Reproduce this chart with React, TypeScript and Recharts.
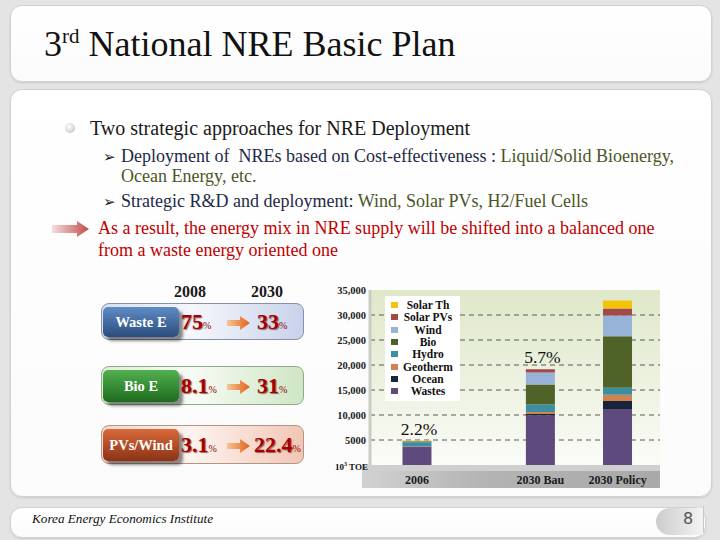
import React from "react";
import { BarChart, Bar, XAxis, YAxis, CartesianGrid, Legend, LabelList } from "recharts";

// NRE supply by source, 10^3 TOE
const categories = ["2006", "2030 Bau", "2030 Policy"];
const nreShare = ["2.2%", "5.7%", "11%"];
const wastes = [3700, 9900, 11200];
const ocean = [0, 300, 1600];
const geotherm = [50, 400, 1250];
const hydro = [800, 1500, 1400];
const bio = [150, 4000, 10300];
const wind = [60, 2400, 4150];
const solarPV = [40, 650, 1400];
const solarTh = [100, 0, 1600];

const yTicks = [5000, 10000, 15000, 20000, 25000, 30000, 35000];
const yTickLabels = ["5000", "10,000", "15,000", "20,000", "25,000", "30,000", "35,000"];
const gridValues = [5000, 10000, 15000, 20000, 25000, 30000];

// left panel: share of each source, 2008 -> 2030
const rowLabels = ["Waste E", "Bio E", "PVs/Wind"];
const share2008 = ["75", "8.1", "3.1"];
const share2030 = ["33", "31", "22.4"];

// x slots on a numeric axis so the two 2030 bars sit close together
const slotPos = [0, 1.6, 2.6];
const xDomain = [-0.61, 3.15];

const series = [
  { key: "wastes", name: "Wastes", color: "#5e4a7c", values: wastes },
  { key: "ocean", name: "Ocean", color: "#16253a", values: ocean },
  { key: "geotherm", name: "Geotherm", color: "#d0834f", values: geotherm },
  { key: "hydro", name: "Hydro", color: "#3a8fa2", values: hydro },
  { key: "bio", name: "Bio", color: "#4f6228", values: bio },
  { key: "wind", name: "Wind", color: "#98b3d8", values: wind },
  { key: "solarPV", name: "Solar PVs", color: "#a24a4a", values: solarPV },
  { key: "solarTh", name: "Solar Th", color: "#f5c20a", values: solarTh },
];

const table = categories.map((c, i) => {
  const row: Record<string, string | number> = { category: c, pos: slotPos[i], share: nreShare[i] };
  series.forEach((s) => (row[s.key] = s.values[i]));
  return row;
});

// highest non-empty segment of each stack carries the share label
const topKeyAt = (i: number) => {
  for (let k = series.length - 1; k >= 0; k--) if (series[k].values[i] > 0) return series[k].key;
  return series[0].key;
};

const FONT = '"Liberation Serif", "DejaVu Serif", "Times New Roman", serif';

const rowStyles = [
  { top: 303, h: 37, box: "linear-gradient(90deg,#d9dff0,#f6f7fb 45%,#c8d2ea)", border: "#8791ab", btn: "linear-gradient(180deg,#5f8cc6,#2b4c7d)" },
  { top: 366, h: 39, box: "linear-gradient(90deg,#dcefd5,#f7fbf5 45%,#cfe6c4)", border: "#93a98b", btn: "linear-gradient(180deg,#52b04f,#1d6b1d)" },
  { top: 425, h: 39, box: "linear-gradient(90deg,#f6d8cd,#fcf3ef 45%,#f2c6b3)", border: "#b39487", btn: "linear-gradient(180deg,#d96a3b,#8b3216)" },
];

function Panel({ top, height, width = 700 }: { top: number; height: number; width?: number }) {
  return (
    <div
      style={{
        position: "absolute",
        left: 10,
        top,
        width,
        height,
        borderRadius: 12,
        background: "linear-gradient(180deg,#ffffff,#fbfbfb)",
        border: "1px solid #d2d2d2",
        boxShadow: "0 1px 2px rgba(0,0,0,0.12)",
      }}
    />
  );
}

function Txt({ x, y, size, color = "#1a1a1a", children, bold, italic }: any) {
  return (
    <div
      style={{
        position: "absolute",
        left: x,
        top: y - size * 0.6,
        fontFamily: FONT,
        fontSize: size,
        lineHeight: `${size * 1.2}px`,
        color,
        whiteSpace: "nowrap",
        fontWeight: bold ? "bold" : "normal",
        fontStyle: italic ? "italic" : "normal",
      }}
    >
      {children}
    </div>
  );
}

function OrangeArrow({ x, y }: { x: number; y: number }) {
  return (
    <svg style={{ position: "absolute", left: x, top: y - 7 }} width={23} height={14}>
      <defs>
        <linearGradient id={`oa${y}`} x1="0" y1="0" x2="1" y2="0">
          <stop offset="0" stopColor="#f7c494" />
          <stop offset="1" stopColor="#e0621a" />
        </linearGradient>
      </defs>
      <polygon points="0,4 13,4 13,0 23,7 13,14 13,10 0,10" fill={`url(#oa${y})`} />
    </svg>
  );
}

function ShareRows() {
  return (
    <>
      <Txt x={174} y={292} size={16} bold>2008</Txt>
      <Txt x={251} y={292} size={16} bold>2030</Txt>
      {rowLabels.map((label, i) => {
        const r = rowStyles[i];
        const cy = r.top + r.h / 2;
        const num = { fontFamily: FONT, fontWeight: "bold" as const, fontSize: 22, color: "#a80000", textShadow: "1px 1px 1px rgba(60,0,0,0.55)" };
        const pct = { fontFamily: FONT, fontSize: 10, color: "#8a0000" };
        return (
          <React.Fragment key={label}>
            <div
              style={{
                position: "absolute",
                left: 101,
                top: r.top,
                width: 203,
                height: r.h,
                borderRadius: 8,
                background: r.box,
                border: `1px solid ${r.border}`,
                boxSizing: "border-box",
              }}
            />
            <div
              style={{
                position: "absolute",
                left: 103,
                top: r.top + 4,
                width: 76,
                height: r.h - 7,
                borderRadius: 5,
                background: r.btn,
                boxShadow: "4px 4px 3px rgba(0,0,0,0.45)",
                color: "#fff",
                fontFamily: FONT,
                fontWeight: "bold",
                fontSize: 14.5,
                display: "flex",
                alignItems: "center",
                justifyContent: "center",
                whiteSpace: "nowrap",
              }}
            >
              {label}
            </div>
            <div style={{ position: "absolute", left: 181, top: cy - 13, whiteSpace: "nowrap", lineHeight: "26px" }}>
              <span style={num}>{share2008[i]}</span>
              <span style={pct}>%</span>
            </div>
            <OrangeArrow x={227} y={cy + 1} />
            <div style={{ position: "absolute", left: i === 2 ? 254 : 257, top: cy - 13, whiteSpace: "nowrap", lineHeight: "26px" }}>
              <span style={num}>{share2030[i]}</span>
              <span style={pct}>%</span>
            </div>
          </React.Fragment>
        );
      })}
    </>
  );
}

const renderLegend = (props: any) => {
  const order = series.map((s) => s.name);
  const items = [...(props.payload ?? [])].sort((a: any, b: any) => order.indexOf(b.value) - order.indexOf(a.value));
  return (
    <div style={{ background: "#fff", width: 75, padding: "3px 0 4px", fontFamily: FONT, fontWeight: "bold", fontSize: 11.5, color: "#111" }}>
      {items.map((p: any) => (
        <div key={p.value} style={{ display: "flex", alignItems: "center", height: 12.3 }}>
          <span style={{ width: 7, height: 6, background: p.color, marginLeft: 6 }} />
          <span style={{ flex: 1, textAlign: "center", paddingRight: 2, lineHeight: "12px" }}>{p.value}</span>
        </div>
      ))}
    </div>
  );
};

const shareLabel = (key: string) => (props: any) => {
  const { x, y, width, index } = props;
  if (topKeyAt(index) !== key) return null;
  return (
    <text x={Number(x) + Number(width) / 2 + 2} y={Number(y) - 6} textAnchor="middle" fontFamily={FONT} fontSize={17.5} fill="#111">
      {nreShare[index]}
    </text>
  );
};

function SupplyChart() {
  return (
    <div style={{ position: "absolute", left: 330, top: 280, width: 340, height: 215 }}>
      <BarChart width={340} height={215} data={table} margin={{ top: 10, right: 10, bottom: 0, left: 0 }}>
        <defs>
          <linearGradient id="plotBg" x1="0" y1="0" x2="0" y2="1">
            <stop offset="0" stopColor="#dfe8c9" />
            <stop offset="0.6" stopColor="#eef3e3" />
            <stop offset="1" stopColor="#fbfcf8" />
          </linearGradient>
        </defs>
        <CartesianGrid
          vertical={false}
          horizontalValues={gridValues}
          stroke="#5a5a5a"
          strokeDasharray="5 4"
          fill="url(#plotBg)"
        />
        <XAxis
          type="number"
          dataKey="pos"
          domain={xDomain}
          ticks={slotPos}
          interval={0}
          tickFormatter={(v: number) => categories[slotPos.indexOf(v)] ?? ""}
          axisLine={false}
          tickLine={false}
          tickSize={0}
          tickMargin={10}
          height={30}
          tick={{ fontFamily: FONT, fontWeight: "bold", fontSize: 12, fill: "#1a1a1a" }}
        />
        <YAxis
          type="number"
          domain={[0, 35000]}
          ticks={yTicks}
          interval={0}
          width={40}
          tickFormatter={(v: number) => yTickLabels[yTicks.indexOf(v)] ?? ""}
          axisLine={{ stroke: "#c9cdc2", strokeWidth: 3 }}
          tickLine={false}
          tickSize={0}
          tickMargin={4}
          tick={{ fontFamily: FONT, fontWeight: "bold", fontSize: 10.5, fill: "#222" }}
        />
        <Legend
          layout="vertical"
          align="center"
          verticalAlign="middle"
          wrapperStyle={{ left: 55, top: 16, width: 75 }}
          content={renderLegend}
        />
        {series.map((s) => (
          <Bar key={s.key} dataKey={s.key} name={s.name} stackId="nre" fill={s.color} barSize={29} isAnimationActive={false}>
            <LabelList dataKey={s.key} content={shareLabel(s.key)} />
          </Bar>
        ))}
      </BarChart>
    </div>
  );
}

export default function App() {
  return (
    <div style={{ position: "absolute", left: 0, top: 0, width: 720, height: 540, background: "#e4e4e4", overflow: "hidden" }}>
      <Panel top={5} height={75} />
      <Panel top={89} height={406} />
      <Panel top={507} height={29} width={694} />

      {/* title */}
      <div style={{ position: "absolute", left: 44, top: 27, fontFamily: FONT, fontSize: 36, lineHeight: "35px", color: "#111", whiteSpace: "nowrap" }}>
        3<span style={{ fontSize: 21, position: "relative", top: -13 }}>rd</span> National NRE Basic Plan
      </div>

      {/* bullets */}
      <div
        style={{
          position: "absolute",
          left: 65,
          top: 123,
          width: 10,
          height: 10,
          borderRadius: 5,
          background: "radial-gradient(circle at 40% 35%,#ffffff,#d6d6d6 60%,#a9a9a9)",
        }}
      />
      <Txt x={90} y={128} size={20}>Two strategic approaches for NRE Deployment</Txt>
      <Txt x={103} y={157} size={15} color="#222">
        <span style={{ fontFamily: "DejaVu Sans" }}>➢</span>
      </Txt>
      <Txt x={121} y={157} size={18} color="#1d2a47">
        Deployment of&nbsp; NREs based on Cost-effectiveness : <span style={{ color: "#4b5527" }}>Liquid/Solid Bioenergy,</span>
      </Txt>
      <Txt x={121} y={177} size={18} color="#4b5527">Ocean Energy, etc.</Txt>
      <Txt x={103} y={202} size={15} color="#222">
        <span style={{ fontFamily: "DejaVu Sans" }}>➢</span>
      </Txt>
      <Txt x={121} y={202} size={18} color="#1d2a47">
        Strategic R&amp;D and deployment: <span style={{ color: "#4b5527" }}>Wind, Solar PVs, H2/Fuel Cells</span>
      </Txt>
      <svg style={{ position: "absolute", left: 52, top: 221 }} width={37} height={16}>
        <defs>
          <linearGradient id="redArrow" x1="0" y1="0" x2="1" y2="0">
            <stop offset="0" stopColor="#f6dede" />
            <stop offset="1" stopColor="#c24a4a" />
          </linearGradient>
        </defs>
        <polygon points="0,4 25,4 25,0 37,8 25,16 25,12 0,12" fill="url(#redArrow)" />
      </svg>
      <Txt x={98} y={229} size={18} color="#c00000">
        As a result, the energy mix in NRE supply will be shifted into a balanced one
      </Txt>
      <Txt x={98} y={251} size={18} color="#c00000">from a waste energy oriented one</Txt>

      <ShareRows />

      {/* floor under the bars */}
      <div style={{ position: "absolute", left: 362, top: 465, width: 298, height: 23, background: "linear-gradient(90deg,#d2d2d2,#b4b4b4 40%,#a9a9a9)" }} />
      <div style={{ position: "absolute", left: 370, top: 465, width: 290, height: 6, background: "#cfcfcf" }} />
      <div style={{ position: "absolute", left: 335, top: 462, fontFamily: FONT, fontWeight: "bold", fontSize: 9, color: "#111", whiteSpace: "nowrap" }}>
        10<span style={{ fontSize: 6, position: "relative", top: -4 }}>3</span> TOE
      </div>

      <SupplyChart />

      {/* footer */}
      <Txt x={32} y={519} size={13.2} italic color="#111">Korea Energy Economics Institute</Txt>
      <div style={{ position: "absolute", left: 656, top: 508, width: 47, height: 27, borderRadius: "14px 0 0 14px", background: "linear-gradient(90deg,#cccccc,#f4f4f4)" }} />
      <div style={{ position: "absolute", left: 703, top: 506, width: 1, height: 26, background: "#c8c8c8" }} />
      <div style={{ position: "absolute", left: 683, top: 509, fontFamily: '"DejaVu Sans", sans-serif', fontSize: 16, color: "#555" }}>8</div>
    </div>
  );
}
